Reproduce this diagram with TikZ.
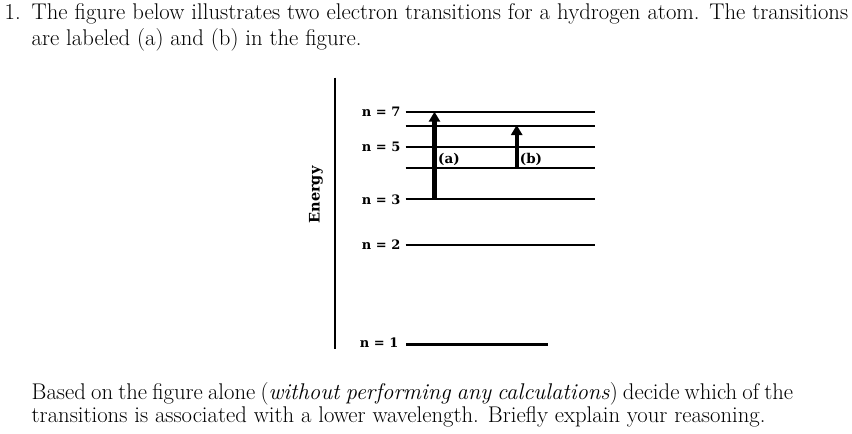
\documentclass[tikz,border=0pt]{standalone}
\usepackage{fontspec}
\newfontfamily\lblfont{DejaVu Serif}
\usetikzlibrary{arrows.meta}
\tikzset{
  level/.style={line width=1.8pt},
  lowlevel/.style={line width=2.4pt},
  lbl/.style={font=\lblfont\bfseries\fontsize{13}{15}\selectfont, inner sep=0pt, anchor=east},
  trans/.style={line width=4.3pt, -{Triangle[length=10pt,width=11pt]}},
  tlabel/.style={font=\lblfont\bfseries\fontsize{13.5}{15}\selectfont, inner sep=0pt},
  body/.style={font=\fontsize{22.7}{26}\selectfont, inner sep=0pt, anchor=base west},
}
\begin{document}
\begin{tikzpicture}[x=1pt,y=-1pt]
\useasboundingbox (0,0) rectangle (852,434);
% question text
\node[body, anchor=base east] (num) at (21,19.5) {1.};
\node[body] (q1) at (31.5,19.5) {\makebox[816.5pt][s]{The figure below illustrates two electron transitions for a hydrogen atom. The transitions}};
\node[body] (q2) at (31.5,45) {are labeled (a) and (b) in the figure.};
\node[body] (b1) at (31.5,399.5) {\makebox[761.5pt][s]{Based on the figure alone (\textit{without performing any calculations}) decide which of the}};
\node[body] (b2) at (31.5,422.8) {transitions is associated with a lower wavelength. Briefly explain your reasoning.};
% energy axis
\coordinate (axtop) at (335.3,77.7);
\coordinate (axbot) at (335.3,349);
\draw[line width=1.8pt] (axtop) -- (axbot);
\node[font=\lblfont\bfseries\fontsize{14.5}{16}\selectfont, rotate=90, inner sep=0pt] (energy) at (316,195) {Energy};
% levels
\coordinate (l7a) at (405.5,111.7); \coordinate (l7b) at (595,111.7);
\coordinate (l6a) at (405.5,126.3); \coordinate (l6b) at (595,126.3);
\coordinate (l5a) at (405.5,146.7); \coordinate (l5b) at (595,146.7);
\coordinate (l4a) at (405.5,168.3); \coordinate (l4b) at (595,168.3);
\coordinate (l3a) at (405.5,199.3); \coordinate (l3b) at (595,199.3);
\coordinate (l2a) at (405.5,245);   \coordinate (l2b) at (595,245);
\coordinate (l1a) at (406,344.3);   \coordinate (l1b) at (547.7,344.3);
\draw[level] (l7a) -- (l7b);
\draw[level] (l6a) -- (l6b);
\draw[level] (l5a) -- (l5b);
\draw[level] (l4a) -- (l4b);
\draw[level] (l3a) -- (l3b);
\draw[level] (l2a) -- (l2b);
\draw[lowlevel] (l1a) -- (l1b);
\node[lbl] (n7) at (400.5,111.7) {n = 7};
\node[lbl] (n5) at (400.5,146.7) {n = 5};
\node[lbl] (n3) at (400.5,199.3) {n = 3};
\node[lbl] (n2) at (400.5,245) {n = 2};
\node[lbl] (n1) at (398.5,343) {n = 1};
% transitions
\coordinate (aFrom) at (434.5,199.3);
\coordinate (aTo) at (434.5,111.7);
\coordinate (bFrom) at (516.7,168.3);
\coordinate (bTo) at (516.7,125);
\draw[trans] (aFrom) -- (aTo);
\draw[trans] (bFrom) -- (bTo);
\node[tlabel] (la) at (449,159) {(a)};
\node[tlabel] (lb) at (531,159) {(b)};
\end{tikzpicture}
\end{document}
